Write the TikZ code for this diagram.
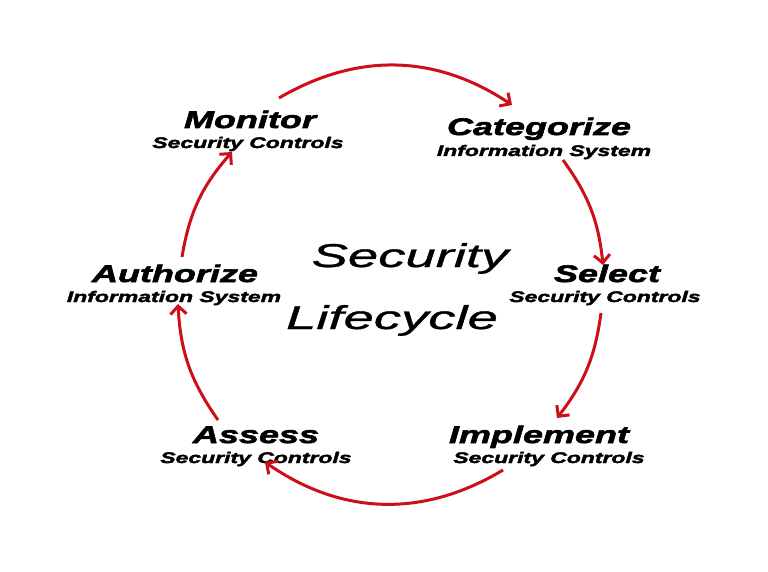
\documentclass[tikz,border=0pt]{standalone}
\usepackage{fontspec}
\usetikzlibrary{arrows.meta}
\newfontfamily\heavyfont[FakeStretch=1.5,FakeBold=2.5]{Liberation Sans}
\newfontfamily\lightfont[FakeStretch=1.65,FakeBold=1]{Liberation Sans}
\definecolor{arrowred}{RGB}{205,15,25}
\begin{document}
\begin{tikzpicture}[x=1pt,y=-1pt,
  titletext/.style={font=\heavyfont\bfseries\itshape\fontsize{24}{26}\selectfont, anchor=base, inner sep=0pt},
  subtext/.style={font=\heavyfont\bfseries\itshape\fontsize{15.3}{17}\selectfont, anchor=base, inner sep=0pt},
  bigtext/.style={font=\lightfont\itshape\fontsize{33}{36}\selectfont, anchor=base, inner sep=0pt},
  cyc/.style={draw=arrowred, line width=3pt, -{Straight Barb[length=8pt,width=16pt]}}]
\useasboundingbox[fill=white] (0,0) rectangle (768,572);
% centre
\node[bigtext] (sec) at (410,267) {Security};
\node[bigtext] (life) at (392,329) {Lifecycle};
% stages
\node[titletext] (mon) at (250,128) {Monitor};
\node[subtext] (monS) at (248,148) {Security Controls};
\node[titletext] (cat) at (539,135) {Categorize};
\node[subtext] (catS) at (544,156) {Information System};
\node[titletext] (sel) at (607,282) {Select};
\node[subtext] (selS) at (605,302) {Security Controls};
\node[titletext] (imp) at (539,443) {Implement};
\node[subtext] (impS) at (549,463) {Security Controls};
\node[titletext] (ass) at (256,443) {Assess};
\node[subtext] (assS) at (256,463) {Security Controls};
\node[titletext] (aut) at (175,282) {Authorize};
\node[subtext] (autS) at (174,302) {Information System};
% arrow ends
\coordinate (a1) at (279,98);  \coordinate (b1) at (512,105);
\coordinate (a2) at (563,160); \coordinate (b2) at (603,265);
\coordinate (a3) at (601,313); \coordinate (b3) at (557,418);
\coordinate (a4) at (503,470); \coordinate (b4) at (265,462);
\coordinate (a5) at (218,420); \coordinate (b5) at (178,304);
\coordinate (a6) at (182,257); \coordinate (b6) at (232,152);
\draw[cyc] (a1) to[bend left=32] (b1);
\draw[cyc] (a2) to[bend left=15] (b2);
\draw[cyc] (a3) to[bend left=15] (b3);
\draw[cyc] (a4) to[bend left=33] (b4);
\draw[cyc] (a5) to[bend left=16] (b5);
\draw[cyc] (a6) to[bend left=16] (b6);
\end{tikzpicture}
\end{document}
